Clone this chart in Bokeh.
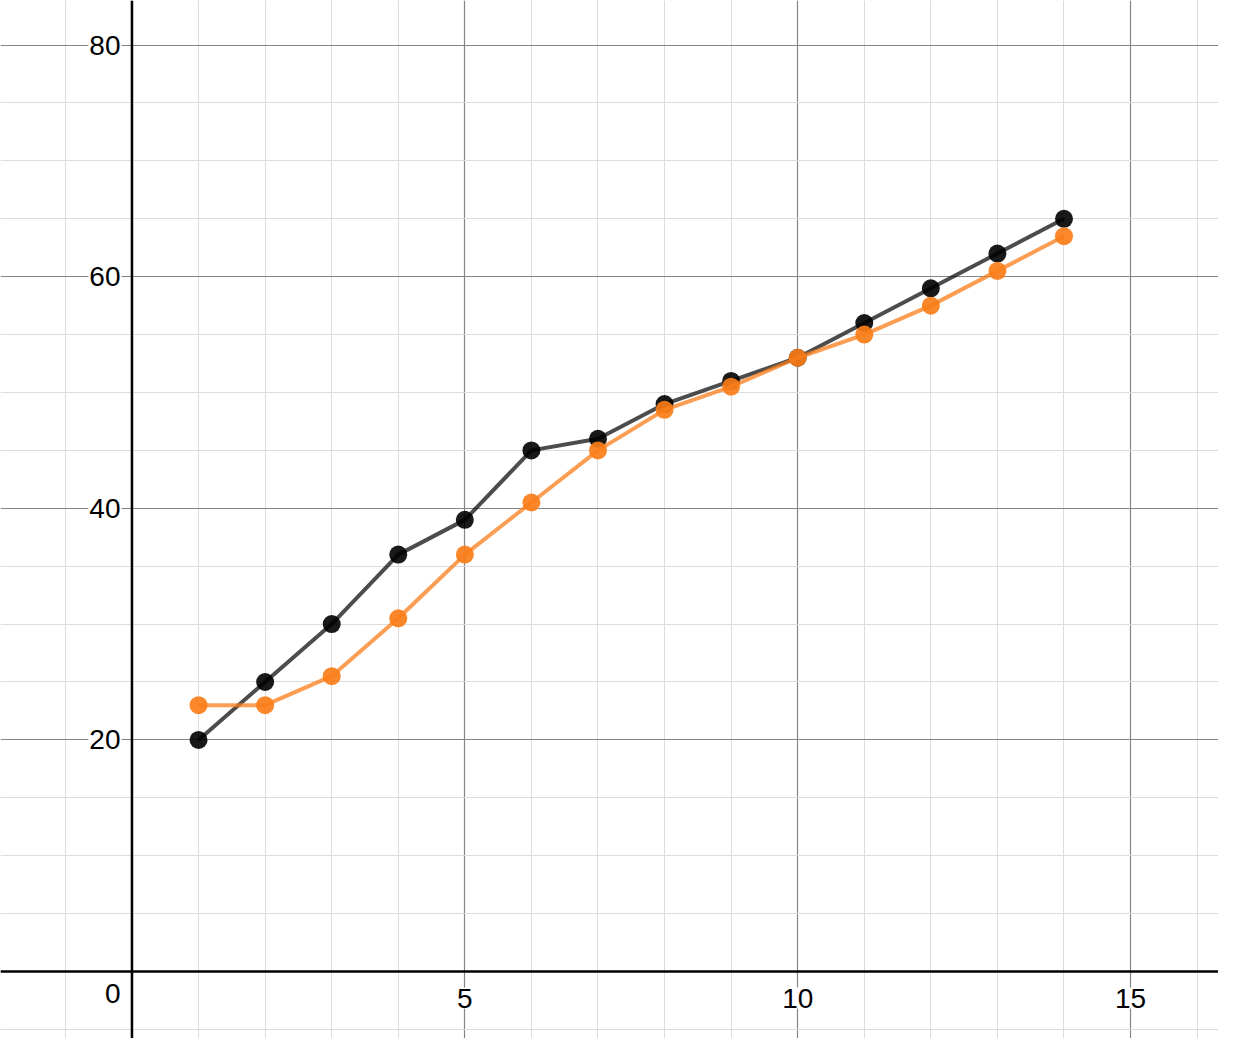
from bokeh.plotting import figure
from bokeh.models import Range1d, SingleIntervalTicker, Span, Label
from bokeh.embed import file_html
from bokeh.resources import INLINE

x_vals = [1, 2, 3, 4, 5, 6, 7, 8, 9, 10, 11, 12, 13, 14]
black_y = [20, 25, 30, 36, 39, 45, 46, 49, 51, 53, 56, 59, 62, 65]
orange_y = [23, 23, 25.5, 30.5, 36, 40.5, 45, 48.5, 50.5, 53, 55, 57.5, 60.5, 63.5]
x_tick_labels = [5, 10, 15]
y_tick_labels = [20, 40, 60, 80]

p = figure(width=1218, height=1038, output_backend="svg", toolbar_location=None,
           x_range=Range1d(-1.975, 16.321), y_range=Range1d(-5.786, 83.85),
           min_border=0, outline_line_color=None)
p.axis.visible = False

p.xgrid.ticker = SingleIntervalTicker(interval=5, num_minor_ticks=5)
p.ygrid.ticker = SingleIntervalTicker(interval=20, num_minor_ticks=4)
for g in (p.xgrid, p.ygrid):
    g.grid_line_color = "#858585"
    g.grid_line_width = 1.2
    g.minor_grid_line_color = "#dcdcdc"
    g.minor_grid_line_width = 1

p.add_layout(Span(location=0, dimension="height", line_color="black", line_width=2.5))
p.add_layout(Span(location=0, dimension="width", line_color="black", line_width=2.5))

FONT = "Liberation Sans"
FS = "28px"
for v in y_tick_labels:
    p.add_layout(Label(x=-0.158, y=v, text=str(v), text_align="right", text_baseline="middle",
                       text_font=FONT, text_font_size=FS, text_color="black",
                       background_fill_color="white", padding=1))
p.add_layout(Label(x=-0.158, y=-1.9, text="0", text_align="right", text_baseline="middle",
                   text_font=FONT, text_font_size=FS, text_color="black",
                   background_fill_color="white", padding=1))
for v in x_tick_labels:
    p.add_layout(Label(x=v, y=-2.29, text=str(v), text_align="center", text_baseline="middle",
                       text_font=FONT, text_font_size=FS, text_color="black",
                       background_fill_color="white", padding=1))

p.line(x_vals, black_y, line_color="#000000", line_alpha=0.7, line_width=4)
p.scatter(x_vals, black_y, size=18, fill_color="#000000", fill_alpha=0.9, line_color=None)
p.line(x_vals, orange_y, line_color="#fa7e19", line_alpha=0.75, line_width=4)
p.scatter(x_vals, orange_y, size=18, fill_color="#fa7e19", fill_alpha=0.92, line_color=None)

open("out.html", "w").write(file_html(p, INLINE))
